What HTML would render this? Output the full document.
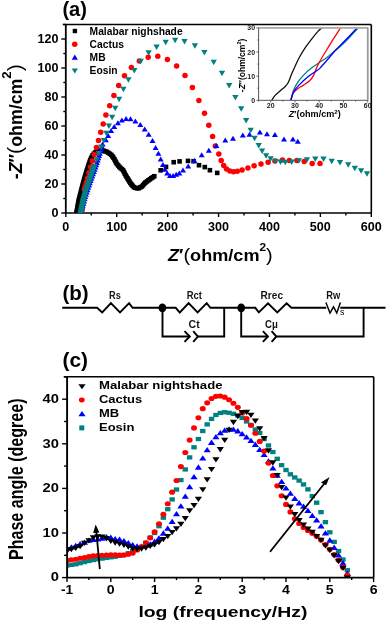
<!DOCTYPE html>
<html><head><meta charset="utf-8"><title>Figure</title>
<style>html,body{margin:0;padding:0;background:#fff;width:387px;height:622px;overflow:hidden}svg{display:block}</style>
</head><body>
<svg width="387" height="622" viewBox="0 0 387 622" font-family="'Liberation Sans', Arial, sans-serif">
<defs>
<clipPath id="clipA"><rect x="65.8" y="24.5" width="305.5" height="188.5"/></clipPath>
<clipPath id="clipI"><rect x="258.6" y="27.9" width="109.09999999999997" height="72.4"/></clipPath>
<clipPath id="clipC"><rect x="67.1" y="376.7" width="306.6" height="200.90000000000003"/></clipPath>
</defs>
<rect width="387" height="622" fill="#fff"/>
<line x1="62.8" y1="24.5" x2="371.3" y2="24.5" stroke="#000" stroke-width="1.4"/>
<line x1="65.8" y1="24.5" x2="65.8" y2="213.0" stroke="#000" stroke-width="1.8"/>
<line x1="371.3" y1="24.5" x2="371.3" y2="213.0" stroke="#000" stroke-width="1.6"/>
<line x1="65.8" y1="213.0" x2="371.3" y2="213.0" stroke="#000" stroke-width="1.6"/>
<line x1="61.3" y1="213.00" x2="65.8" y2="213.00" stroke="#000" stroke-width="1.4"/>
<text x="58.5" y="217.40" font-size="12.4" font-weight="bold" text-anchor="end" fill="#000" textLength="7.0" lengthAdjust="spacingAndGlyphs" >0</text>
<line x1="63.3" y1="198.50" x2="65.8" y2="198.50" stroke="#000" stroke-width="1.4"/>
<line x1="61.3" y1="184.00" x2="65.8" y2="184.00" stroke="#000" stroke-width="1.4"/>
<text x="58.5" y="188.40" font-size="12.4" font-weight="bold" text-anchor="end" fill="#000" textLength="14.0" lengthAdjust="spacingAndGlyphs" >20</text>
<line x1="63.3" y1="169.50" x2="65.8" y2="169.50" stroke="#000" stroke-width="1.4"/>
<line x1="61.3" y1="155.00" x2="65.8" y2="155.00" stroke="#000" stroke-width="1.4"/>
<text x="58.5" y="159.40" font-size="12.4" font-weight="bold" text-anchor="end" fill="#000" textLength="14.0" lengthAdjust="spacingAndGlyphs" >40</text>
<line x1="63.3" y1="140.50" x2="65.8" y2="140.50" stroke="#000" stroke-width="1.4"/>
<line x1="61.3" y1="126.00" x2="65.8" y2="126.00" stroke="#000" stroke-width="1.4"/>
<text x="58.5" y="130.40" font-size="12.4" font-weight="bold" text-anchor="end" fill="#000" textLength="14.0" lengthAdjust="spacingAndGlyphs" >60</text>
<line x1="63.3" y1="111.50" x2="65.8" y2="111.50" stroke="#000" stroke-width="1.4"/>
<line x1="61.3" y1="97.00" x2="65.8" y2="97.00" stroke="#000" stroke-width="1.4"/>
<text x="58.5" y="101.40" font-size="12.4" font-weight="bold" text-anchor="end" fill="#000" textLength="14.0" lengthAdjust="spacingAndGlyphs" >80</text>
<line x1="63.3" y1="82.50" x2="65.8" y2="82.50" stroke="#000" stroke-width="1.4"/>
<line x1="61.3" y1="68.00" x2="65.8" y2="68.00" stroke="#000" stroke-width="1.4"/>
<text x="58.5" y="72.40" font-size="12.4" font-weight="bold" text-anchor="end" fill="#000" textLength="21.0" lengthAdjust="spacingAndGlyphs" >100</text>
<line x1="63.3" y1="53.50" x2="65.8" y2="53.50" stroke="#000" stroke-width="1.4"/>
<line x1="61.3" y1="39.00" x2="65.8" y2="39.00" stroke="#000" stroke-width="1.4"/>
<text x="58.5" y="43.40" font-size="12.4" font-weight="bold" text-anchor="end" fill="#000" textLength="21.0" lengthAdjust="spacingAndGlyphs" >120</text>
<line x1="63.3" y1="24.50" x2="65.8" y2="24.50" stroke="#000" stroke-width="1.4"/>
<line x1="65.80" y1="213.0" x2="65.80" y2="217.0" stroke="#000" stroke-width="1.4"/>
<text x="65.80" y="230.8" font-size="12.4" font-weight="bold" text-anchor="middle" fill="#000" textLength="7.0" lengthAdjust="spacingAndGlyphs" >0</text>
<line x1="91.26" y1="213.0" x2="91.26" y2="215.5" stroke="#000" stroke-width="1.4"/>
<line x1="116.72" y1="213.0" x2="116.72" y2="217.0" stroke="#000" stroke-width="1.4"/>
<text x="116.72" y="230.8" font-size="12.4" font-weight="bold" text-anchor="middle" fill="#000" textLength="21.0" lengthAdjust="spacingAndGlyphs" >100</text>
<line x1="142.18" y1="213.0" x2="142.18" y2="215.5" stroke="#000" stroke-width="1.4"/>
<line x1="167.63" y1="213.0" x2="167.63" y2="217.0" stroke="#000" stroke-width="1.4"/>
<text x="167.63" y="230.8" font-size="12.4" font-weight="bold" text-anchor="middle" fill="#000" textLength="21.0" lengthAdjust="spacingAndGlyphs" >200</text>
<line x1="193.09" y1="213.0" x2="193.09" y2="215.5" stroke="#000" stroke-width="1.4"/>
<line x1="218.55" y1="213.0" x2="218.55" y2="217.0" stroke="#000" stroke-width="1.4"/>
<text x="218.55" y="230.8" font-size="12.4" font-weight="bold" text-anchor="middle" fill="#000" textLength="21.0" lengthAdjust="spacingAndGlyphs" >300</text>
<line x1="244.01" y1="213.0" x2="244.01" y2="215.5" stroke="#000" stroke-width="1.4"/>
<line x1="269.47" y1="213.0" x2="269.47" y2="217.0" stroke="#000" stroke-width="1.4"/>
<text x="269.47" y="230.8" font-size="12.4" font-weight="bold" text-anchor="middle" fill="#000" textLength="21.0" lengthAdjust="spacingAndGlyphs" >400</text>
<line x1="294.93" y1="213.0" x2="294.93" y2="215.5" stroke="#000" stroke-width="1.4"/>
<line x1="320.38" y1="213.0" x2="320.38" y2="217.0" stroke="#000" stroke-width="1.4"/>
<text x="320.38" y="230.8" font-size="12.4" font-weight="bold" text-anchor="middle" fill="#000" textLength="21.0" lengthAdjust="spacingAndGlyphs" >500</text>
<line x1="345.84" y1="213.0" x2="345.84" y2="215.5" stroke="#000" stroke-width="1.4"/>
<line x1="371.30" y1="213.0" x2="371.30" y2="217.0" stroke="#000" stroke-width="1.4"/>
<text x="371.30" y="230.8" font-size="12.4" font-weight="bold" text-anchor="middle" fill="#000" textLength="21.0" lengthAdjust="spacingAndGlyphs" >600</text>
<text x="62.4" y="15.6" font-size="20.5" font-weight="bold" textLength="24.6" lengthAdjust="spacingAndGlyphs">(a)</text>
<text x="168.0" y="261.2" font-size="16.8" font-weight="bold" textLength="104.8" lengthAdjust="spacingAndGlyphs"><tspan font-style="italic">Z</tspan>′<tspan font-size="18.5" font-weight="normal">(</tspan>ohm/cm<tspan font-size="11" dy="-10.5">2</tspan><tspan dy="10.5" font-size="18.5" font-weight="normal">)</tspan></text>
<text transform="translate(22,179.2) rotate(-90)" x="0" y="0" font-size="17.5" font-weight="bold" textLength="115" lengthAdjust="spacingAndGlyphs">-<tspan font-style="italic">Z</tspan>″<tspan font-size="21" font-weight="normal">(</tspan>ohm/cm<tspan font-size="13" dy="-11">2</tspan><tspan dy="11" font-size="21" font-weight="normal">)</tspan></text>
<rect x="72.70" y="28.80" width="4.40" height="4.40" fill="#000"/>
<ellipse cx="74.70" cy="44.20" rx="2.75" ry="2.75" fill="#ff0000"/>
<polygon points="71.70,59.80 77.90,59.80 74.80,54.60" fill="#0000ff"/>
<polygon points="71.70,68.40 77.90,68.40 74.80,73.60" fill="#008080"/>
<text x="89.6" y="34.6" font-size="10" font-weight="bold" text-anchor="start" fill="#000" textLength="93" lengthAdjust="spacingAndGlyphs" >Malabar nighshade</text>
<text x="89.6" y="47.7" font-size="10" font-weight="bold" text-anchor="start" fill="#000" textLength="34.3" lengthAdjust="spacingAndGlyphs" >Cactus</text>
<text x="89.6" y="60.9" font-size="10" font-weight="bold" text-anchor="start" fill="#000" textLength="16.0" lengthAdjust="spacingAndGlyphs" >MB</text>
<text x="89.6" y="74.1" font-size="10" font-weight="bold" text-anchor="start" fill="#000" textLength="28.0" lengthAdjust="spacingAndGlyphs" >Eosin</text>
<g clip-path="url(#clipA)">
<rect x="74.00" y="211.70" width="4.60" height="4.60" fill="#000"/>
<rect x="74.32" y="209.93" width="4.60" height="4.60" fill="#000"/>
<rect x="74.63" y="208.16" width="4.60" height="4.60" fill="#000"/>
<rect x="74.95" y="206.38" width="4.60" height="4.60" fill="#000"/>
<rect x="75.27" y="204.61" width="4.60" height="4.60" fill="#000"/>
<rect x="75.58" y="202.84" width="4.60" height="4.60" fill="#000"/>
<rect x="75.90" y="201.07" width="4.60" height="4.60" fill="#000"/>
<rect x="76.21" y="199.30" width="4.60" height="4.60" fill="#000"/>
<rect x="76.54" y="197.53" width="4.60" height="4.60" fill="#000"/>
<rect x="77.00" y="195.79" width="4.60" height="4.60" fill="#000"/>
<rect x="77.45" y="194.04" width="4.60" height="4.60" fill="#000"/>
<rect x="77.90" y="192.30" width="4.60" height="4.60" fill="#000"/>
<rect x="78.36" y="190.56" width="4.60" height="4.60" fill="#000"/>
<rect x="78.81" y="188.82" width="4.60" height="4.60" fill="#000"/>
<rect x="79.26" y="187.07" width="4.60" height="4.60" fill="#000"/>
<rect x="79.72" y="185.33" width="4.60" height="4.60" fill="#000"/>
<rect x="80.17" y="183.59" width="4.60" height="4.60" fill="#000"/>
<rect x="80.62" y="181.85" width="4.60" height="4.60" fill="#000"/>
<rect x="81.07" y="180.11" width="4.60" height="4.60" fill="#000"/>
<rect x="81.53" y="178.36" width="4.60" height="4.60" fill="#000"/>
<rect x="82.02" y="176.63" width="4.60" height="4.60" fill="#000"/>
<rect x="82.54" y="174.91" width="4.60" height="4.60" fill="#000"/>
<rect x="83.05" y="173.19" width="4.60" height="4.60" fill="#000"/>
<rect x="83.57" y="171.46" width="4.60" height="4.60" fill="#000"/>
<rect x="84.09" y="169.74" width="4.60" height="4.60" fill="#000"/>
<rect x="84.61" y="168.01" width="4.60" height="4.60" fill="#000"/>
<rect x="85.16" y="166.30" width="4.60" height="4.60" fill="#000"/>
<rect x="85.73" y="164.59" width="4.60" height="4.60" fill="#000"/>
<rect x="86.29" y="162.88" width="4.60" height="4.60" fill="#000"/>
<rect x="86.85" y="161.17" width="4.60" height="4.60" fill="#000"/>
<rect x="87.42" y="159.46" width="4.60" height="4.60" fill="#000"/>
<rect x="87.98" y="157.75" width="4.60" height="4.60" fill="#000"/>
<rect x="88.78" y="156.14" width="4.60" height="4.60" fill="#000"/>
<rect x="89.58" y="154.53" width="4.60" height="4.60" fill="#000"/>
<rect x="90.39" y="152.92" width="4.60" height="4.60" fill="#000"/>
<rect x="91.54" y="151.55" width="4.60" height="4.60" fill="#000"/>
<rect x="92.74" y="150.21" width="4.60" height="4.60" fill="#000"/>
<rect x="94.24" y="149.29" width="4.60" height="4.60" fill="#000"/>
<rect x="95.91" y="148.62" width="4.60" height="4.60" fill="#000"/>
<rect x="97.65" y="148.25" width="4.60" height="4.60" fill="#000"/>
<rect x="99.44" y="148.15" width="4.60" height="4.60" fill="#000"/>
<rect x="101.19" y="148.38" width="4.60" height="4.60" fill="#000"/>
<rect x="102.89" y="148.97" width="4.60" height="4.60" fill="#000"/>
<rect x="104.60" y="149.56" width="4.60" height="4.60" fill="#000"/>
<rect x="106.12" y="150.49" width="4.60" height="4.60" fill="#000"/>
<rect x="107.59" y="151.53" width="4.60" height="4.60" fill="#000"/>
<rect x="109.06" y="152.57" width="4.60" height="4.60" fill="#000"/>
<rect x="110.11" y="154.03" width="4.60" height="4.60" fill="#000"/>
<rect x="111.15" y="155.50" width="4.60" height="4.60" fill="#000"/>
<rect x="112.15" y="156.99" width="4.60" height="4.60" fill="#000"/>
<rect x="112.95" y="158.60" width="4.60" height="4.60" fill="#000"/>
<rect x="113.76" y="160.21" width="4.60" height="4.60" fill="#000"/>
<rect x="114.68" y="161.74" width="4.60" height="4.60" fill="#000"/>
<rect x="115.85" y="163.11" width="4.60" height="4.60" fill="#000"/>
<rect x="117.02" y="164.48" width="4.60" height="4.60" fill="#000"/>
<rect x="118.27" y="165.77" width="4.60" height="4.60" fill="#000"/>
<rect x="119.68" y="166.89" width="4.60" height="4.60" fill="#000"/>
<rect x="120.92" y="168.14" width="4.60" height="4.60" fill="#000"/>
<rect x="121.71" y="169.76" width="4.60" height="4.60" fill="#000"/>
<rect x="122.50" y="171.38" width="4.60" height="4.60" fill="#000"/>
<rect x="123.34" y="172.97" width="4.60" height="4.60" fill="#000"/>
<rect x="124.27" y="174.51" width="4.60" height="4.60" fill="#000"/>
<rect x="125.19" y="176.05" width="4.60" height="4.60" fill="#000"/>
<rect x="126.13" y="177.59" width="4.60" height="4.60" fill="#000"/>
<rect x="127.08" y="179.12" width="4.60" height="4.60" fill="#000"/>
<rect x="128.02" y="180.65" width="4.60" height="4.60" fill="#000"/>
<rect x="129.12" y="182.07" width="4.60" height="4.60" fill="#000"/>
<rect x="130.29" y="183.44" width="4.60" height="4.60" fill="#000"/>
<rect x="131.46" y="184.81" width="4.60" height="4.60" fill="#000"/>
<rect x="133.07" y="185.50" width="4.60" height="4.60" fill="#000"/>
<rect x="134.79" y="186.01" width="4.60" height="4.60" fill="#000"/>
<rect x="136.45" y="185.93" width="4.60" height="4.60" fill="#000"/>
<rect x="138.02" y="185.05" width="4.60" height="4.60" fill="#000"/>
<rect x="139.59" y="184.17" width="4.60" height="4.60" fill="#000"/>
<rect x="140.79" y="182.86" width="4.60" height="4.60" fill="#000"/>
<rect x="141.90" y="181.44" width="4.60" height="4.60" fill="#000"/>
<rect x="143.19" y="180.21" width="4.60" height="4.60" fill="#000"/>
<rect x="144.64" y="179.14" width="4.60" height="4.60" fill="#000"/>
<rect x="146.09" y="178.07" width="4.60" height="4.60" fill="#000"/>
<rect x="147.53" y="176.99" width="4.60" height="4.60" fill="#000"/>
<rect x="148.99" y="175.94" width="4.60" height="4.60" fill="#000"/>
<rect x="150.49" y="174.94" width="4.60" height="4.60" fill="#000"/>
<rect x="151.99" y="173.94" width="4.60" height="4.60" fill="#000"/>
<rect x="158.40" y="168.00" width="4.60" height="4.60" fill="#000"/>
<rect x="163.70" y="164.60" width="4.60" height="4.60" fill="#000"/>
<rect x="171.40" y="159.90" width="4.60" height="4.60" fill="#000"/>
<rect x="177.30" y="159.10" width="4.60" height="4.60" fill="#000"/>
<rect x="185.70" y="158.60" width="4.60" height="4.60" fill="#000"/>
<rect x="191.30" y="158.90" width="4.60" height="4.60" fill="#000"/>
<rect x="196.70" y="162.90" width="4.60" height="4.60" fill="#000"/>
<rect x="202.50" y="164.80" width="4.60" height="4.60" fill="#000"/>
<rect x="207.60" y="167.90" width="4.60" height="4.60" fill="#000"/>
<rect x="214.90" y="170.60" width="4.60" height="4.60" fill="#000"/>
<ellipse cx="81.50" cy="214.00" rx="2.75" ry="2.75" fill="#ff0000"/>
<ellipse cx="81.92" cy="210.53" rx="2.75" ry="2.75" fill="#ff0000"/>
<ellipse cx="82.34" cy="207.05" rx="2.75" ry="2.75" fill="#ff0000"/>
<ellipse cx="82.77" cy="203.58" rx="2.75" ry="2.75" fill="#ff0000"/>
<ellipse cx="83.19" cy="200.10" rx="2.75" ry="2.75" fill="#ff0000"/>
<ellipse cx="84.30" cy="189.30" rx="2.75" ry="2.75" fill="#ff0000"/>
<ellipse cx="85.10" cy="186.40" rx="2.75" ry="2.75" fill="#ff0000"/>
<ellipse cx="86.20" cy="182.60" rx="2.75" ry="2.75" fill="#ff0000"/>
<ellipse cx="87.60" cy="178.00" rx="2.75" ry="2.75" fill="#ff0000"/>
<ellipse cx="89.00" cy="172.80" rx="2.75" ry="2.75" fill="#ff0000"/>
<ellipse cx="90.70" cy="166.90" rx="2.75" ry="2.75" fill="#ff0000"/>
<ellipse cx="92.40" cy="160.90" rx="2.75" ry="2.75" fill="#ff0000"/>
<ellipse cx="94.30" cy="154.40" rx="2.75" ry="2.75" fill="#ff0000"/>
<ellipse cx="96.40" cy="147.50" rx="2.75" ry="2.75" fill="#ff0000"/>
<ellipse cx="98.50" cy="140.40" rx="2.75" ry="2.75" fill="#ff0000"/>
<ellipse cx="100.70" cy="132.20" rx="2.75" ry="2.75" fill="#ff0000"/>
<ellipse cx="103.20" cy="124.00" rx="2.75" ry="2.75" fill="#ff0000"/>
<ellipse cx="105.90" cy="115.10" rx="2.75" ry="2.75" fill="#ff0000"/>
<ellipse cx="109.70" cy="105.80" rx="2.75" ry="2.75" fill="#ff0000"/>
<ellipse cx="113.90" cy="95.50" rx="2.75" ry="2.75" fill="#ff0000"/>
<ellipse cx="118.70" cy="85.60" rx="2.75" ry="2.75" fill="#ff0000"/>
<ellipse cx="124.50" cy="75.80" rx="2.75" ry="2.75" fill="#ff0000"/>
<ellipse cx="131.40" cy="67.40" rx="2.75" ry="2.75" fill="#ff0000"/>
<ellipse cx="139.30" cy="61.00" rx="2.75" ry="2.75" fill="#ff0000"/>
<ellipse cx="148.20" cy="57.20" rx="2.75" ry="2.75" fill="#ff0000"/>
<ellipse cx="157.80" cy="56.30" rx="2.75" ry="2.75" fill="#ff0000"/>
<ellipse cx="167.40" cy="59.40" rx="2.75" ry="2.75" fill="#ff0000"/>
<ellipse cx="176.60" cy="65.90" rx="2.75" ry="2.75" fill="#ff0000"/>
<ellipse cx="185.00" cy="75.50" rx="2.75" ry="2.75" fill="#ff0000"/>
<ellipse cx="192.40" cy="87.50" rx="2.75" ry="2.75" fill="#ff0000"/>
<ellipse cx="198.90" cy="100.40" rx="2.75" ry="2.75" fill="#ff0000"/>
<ellipse cx="204.50" cy="113.30" rx="2.75" ry="2.75" fill="#ff0000"/>
<ellipse cx="208.80" cy="125.20" rx="2.75" ry="2.75" fill="#ff0000"/>
<ellipse cx="212.60" cy="136.40" rx="2.75" ry="2.75" fill="#ff0000"/>
<ellipse cx="215.30" cy="145.90" rx="2.75" ry="2.75" fill="#ff0000"/>
<ellipse cx="218.80" cy="153.90" rx="2.75" ry="2.75" fill="#ff0000"/>
<ellipse cx="221.20" cy="160.40" rx="2.75" ry="2.75" fill="#ff0000"/>
<ellipse cx="223.70" cy="165.50" rx="2.75" ry="2.75" fill="#ff0000"/>
<ellipse cx="226.50" cy="169.10" rx="2.75" ry="2.75" fill="#ff0000"/>
<ellipse cx="229.80" cy="171.00" rx="2.75" ry="2.75" fill="#ff0000"/>
<ellipse cx="233.50" cy="171.70" rx="2.75" ry="2.75" fill="#ff0000"/>
<ellipse cx="237.30" cy="171.30" rx="2.75" ry="2.75" fill="#ff0000"/>
<ellipse cx="242.10" cy="170.00" rx="2.75" ry="2.75" fill="#ff0000"/>
<ellipse cx="247.90" cy="168.10" rx="2.75" ry="2.75" fill="#ff0000"/>
<ellipse cx="254.10" cy="165.80" rx="2.75" ry="2.75" fill="#ff0000"/>
<ellipse cx="261.00" cy="164.10" rx="2.75" ry="2.75" fill="#ff0000"/>
<ellipse cx="268.10" cy="162.20" rx="2.75" ry="2.75" fill="#ff0000"/>
<ellipse cx="274.90" cy="161.00" rx="2.75" ry="2.75" fill="#ff0000"/>
<ellipse cx="282.40" cy="160.00" rx="2.75" ry="2.75" fill="#ff0000"/>
<ellipse cx="289.40" cy="160.40" rx="2.75" ry="2.75" fill="#ff0000"/>
<ellipse cx="296.90" cy="160.40" rx="2.75" ry="2.75" fill="#ff0000"/>
<ellipse cx="304.20" cy="161.60" rx="2.75" ry="2.75" fill="#ff0000"/>
<ellipse cx="312.20" cy="163.50" rx="2.75" ry="2.75" fill="#ff0000"/>
<ellipse cx="320.00" cy="163.50" rx="2.75" ry="2.75" fill="#ff0000"/>
<polygon points="77.20,217.50 83.20,217.50 80.20,212.50" fill="#0000ff"/>
<polygon points="77.84,215.19 83.84,215.19 80.84,210.19" fill="#0000ff"/>
<polygon points="78.47,212.87 84.47,212.87 81.47,207.87" fill="#0000ff"/>
<polygon points="79.11,210.56 85.11,210.56 82.11,205.56" fill="#0000ff"/>
<polygon points="79.75,208.24 85.75,208.24 82.75,203.24" fill="#0000ff"/>
<polygon points="80.38,205.93 86.38,205.93 83.38,200.93" fill="#0000ff"/>
<polygon points="81.02,203.62 87.02,203.62 84.02,198.62" fill="#0000ff"/>
<polygon points="81.65,201.30 87.65,201.30 84.65,196.30" fill="#0000ff"/>
<polygon points="82.29,198.99 88.29,198.99 85.29,193.99" fill="#0000ff"/>
<polygon points="82.98,196.69 88.98,196.69 85.98,191.69" fill="#0000ff"/>
<polygon points="83.75,194.42 89.75,194.42 86.75,189.42" fill="#0000ff"/>
<polygon points="84.52,192.14 90.52,192.14 87.52,187.14" fill="#0000ff"/>
<polygon points="85.29,189.87 91.29,189.87 88.29,184.87" fill="#0000ff"/>
<polygon points="86.07,187.60 92.07,187.60 89.07,182.60" fill="#0000ff"/>
<polygon points="86.84,185.33 92.84,185.33 89.84,180.33" fill="#0000ff"/>
<polygon points="87.61,183.05 93.61,183.05 90.61,178.05" fill="#0000ff"/>
<polygon points="88.41,180.79 94.41,180.79 91.41,175.79" fill="#0000ff"/>
<polygon points="89.22,178.53 95.22,178.53 92.22,173.53" fill="#0000ff"/>
<polygon points="90.02,176.27 96.02,176.27 93.02,171.27" fill="#0000ff"/>
<polygon points="90.83,174.01 96.83,174.01 93.83,169.01" fill="#0000ff"/>
<polygon points="91.64,171.75 97.64,171.75 94.64,166.75" fill="#0000ff"/>
<polygon points="92.45,169.49 98.45,169.49 95.45,164.49" fill="#0000ff"/>
<polygon points="93.20,167.21 99.20,167.21 96.20,162.21" fill="#0000ff"/>
<polygon points="93.90,164.92 99.90,164.92 96.90,159.92" fill="#0000ff"/>
<polygon points="94.61,162.62 100.61,162.62 97.61,157.62" fill="#0000ff"/>
<polygon points="95.32,160.33 101.32,160.33 98.32,155.33" fill="#0000ff"/>
<polygon points="96.03,158.04 102.03,158.04 99.03,153.04" fill="#0000ff"/>
<polygon points="96.74,155.75 102.74,155.75 99.74,150.75" fill="#0000ff"/>
<polygon points="97.45,153.45 103.45,153.45 100.45,148.45" fill="#0000ff"/>
<polygon points="98.16,151.16 104.16,151.16 101.16,146.16" fill="#0000ff"/>
<polygon points="98.88,148.87 104.88,148.87 101.88,143.87" fill="#0000ff"/>
<polygon points="99.59,146.58 105.59,146.58 102.59,141.58" fill="#0000ff"/>
<polygon points="102.90,142.20 108.90,142.20 105.90,137.20" fill="#0000ff"/>
<polygon points="105.20,138.00 111.20,138.00 108.20,133.00" fill="#0000ff"/>
<polygon points="108.10,132.90 114.10,132.90 111.10,127.90" fill="#0000ff"/>
<polygon points="111.20,128.90 117.20,128.90 114.20,123.90" fill="#0000ff"/>
<polygon points="114.90,125.20 120.90,125.20 117.90,120.20" fill="#0000ff"/>
<polygon points="118.90,122.40 124.90,122.40 121.90,117.40" fill="#0000ff"/>
<polygon points="123.10,121.00 129.10,121.00 126.10,116.00" fill="#0000ff"/>
<polygon points="127.50,121.30 133.50,121.30 130.50,116.30" fill="#0000ff"/>
<polygon points="132.40,123.50 138.40,123.50 135.40,118.50" fill="#0000ff"/>
<polygon points="137.30,126.90 143.30,126.90 140.30,121.90" fill="#0000ff"/>
<polygon points="141.70,131.50 147.70,131.50 144.70,126.50" fill="#0000ff"/>
<polygon points="145.70,136.80 151.70,136.80 148.70,131.80" fill="#0000ff"/>
<polygon points="149.50,143.00 155.50,143.00 152.50,138.00" fill="#0000ff"/>
<polygon points="152.60,150.00 158.60,150.00 155.60,145.00" fill="#0000ff"/>
<polygon points="155.40,155.70 161.40,155.70 158.40,150.70" fill="#0000ff"/>
<polygon points="157.70,161.60 163.70,161.60 160.70,156.60" fill="#0000ff"/>
<polygon points="159.90,167.00 165.90,167.00 162.90,162.00" fill="#0000ff"/>
<polygon points="161.90,171.70 167.90,171.70 164.90,166.70" fill="#0000ff"/>
<polygon points="164.20,175.60 170.20,175.60 167.20,170.60" fill="#0000ff"/>
<polygon points="167.00,177.90 173.00,177.90 170.00,172.90" fill="#0000ff"/>
<polygon points="170.10,177.90 176.10,177.90 173.10,172.90" fill="#0000ff"/>
<polygon points="173.20,176.80 179.20,176.80 176.20,171.80" fill="#0000ff"/>
<polygon points="176.30,175.60 182.30,175.60 179.30,170.60" fill="#0000ff"/>
<polygon points="180.00,172.50 186.00,172.50 183.00,167.50" fill="#0000ff"/>
<polygon points="185.20,168.50 191.20,168.50 188.20,163.50" fill="#0000ff"/>
<polygon points="191.40,163.00 197.40,163.00 194.40,158.00" fill="#0000ff"/>
<polygon points="198.70,157.20 204.70,157.20 201.70,152.20" fill="#0000ff"/>
<polygon points="205.80,152.80 211.80,152.80 208.80,147.80" fill="#0000ff"/>
<polygon points="213.40,147.90 219.40,147.90 216.40,142.90" fill="#0000ff"/>
<polygon points="222.30,142.50 228.30,142.50 225.30,137.50" fill="#0000ff"/>
<polygon points="230.00,140.80 236.00,140.80 233.00,135.80" fill="#0000ff"/>
<polygon points="239.80,137.60 245.80,137.60 242.80,132.60" fill="#0000ff"/>
<polygon points="246.50,136.70 252.50,136.70 249.50,131.70" fill="#0000ff"/>
<polygon points="256.90,134.50 262.90,134.50 259.90,129.50" fill="#0000ff"/>
<polygon points="264.00,136.30 270.00,136.30 267.00,131.30" fill="#0000ff"/>
<polygon points="271.90,137.10 277.90,137.10 274.90,132.10" fill="#0000ff"/>
<polygon points="281.00,141.50 287.00,141.50 284.00,136.50" fill="#0000ff"/>
<polygon points="289.90,141.50 295.90,141.50 292.90,136.50" fill="#0000ff"/>
<polygon points="294.80,143.70 300.80,143.70 297.80,138.70" fill="#0000ff"/>
<polygon points="77.25,212.65 83.55,212.65 80.40,218.15" fill="#008080"/>
<polygon points="77.45,211.67 83.75,211.67 80.60,217.17" fill="#008080"/>
<polygon points="77.64,210.69 83.94,210.69 80.79,216.19" fill="#008080"/>
<polygon points="77.84,209.71 84.14,209.71 80.99,215.21" fill="#008080"/>
<polygon points="78.03,208.73 84.33,208.73 81.18,214.23" fill="#008080"/>
<polygon points="78.23,207.75 84.53,207.75 81.38,213.25" fill="#008080"/>
<polygon points="78.43,206.77 84.73,206.77 81.58,212.27" fill="#008080"/>
<polygon points="78.62,205.79 84.92,205.79 81.77,211.29" fill="#008080"/>
<polygon points="78.82,204.81 85.12,204.81 81.97,210.31" fill="#008080"/>
<polygon points="79.02,203.82 85.32,203.82 82.17,209.32" fill="#008080"/>
<polygon points="79.21,202.84 85.51,202.84 82.36,208.34" fill="#008080"/>
<polygon points="79.44,201.87 85.74,201.87 82.59,207.37" fill="#008080"/>
<polygon points="79.68,200.90 85.98,200.90 82.83,206.40" fill="#008080"/>
<polygon points="79.92,199.93 86.22,199.93 83.07,205.43" fill="#008080"/>
<polygon points="80.16,198.96 86.46,198.96 83.31,204.46" fill="#008080"/>
<polygon points="80.40,197.99 86.70,197.99 83.55,203.49" fill="#008080"/>
<polygon points="80.64,197.02 86.94,197.02 83.79,202.52" fill="#008080"/>
<polygon points="80.88,196.05 87.18,196.05 84.03,201.55" fill="#008080"/>
<polygon points="81.11,195.07 87.41,195.07 84.26,200.57" fill="#008080"/>
<polygon points="81.35,194.10 87.65,194.10 84.50,199.60" fill="#008080"/>
<polygon points="81.59,193.13 87.89,193.13 84.74,198.63" fill="#008080"/>
<polygon points="81.83,192.16 88.13,192.16 84.98,197.66" fill="#008080"/>
<polygon points="82.07,191.19 88.37,191.19 85.22,196.69" fill="#008080"/>
<polygon points="82.31,190.22 88.61,190.22 85.46,195.72" fill="#008080"/>
<polygon points="82.59,189.26 88.89,189.26 85.74,194.76" fill="#008080"/>
<polygon points="82.92,188.32 89.22,188.32 86.07,193.82" fill="#008080"/>
<polygon points="83.25,187.37 89.55,187.37 86.40,192.87" fill="#008080"/>
<polygon points="83.58,186.43 89.88,186.43 86.73,191.93" fill="#008080"/>
<polygon points="83.91,185.48 90.21,185.48 87.06,190.98" fill="#008080"/>
<polygon points="84.24,184.54 90.54,184.54 87.39,190.04" fill="#008080"/>
<polygon points="84.57,183.60 90.87,183.60 87.72,189.10" fill="#008080"/>
<polygon points="84.90,182.65 91.20,182.65 88.05,188.15" fill="#008080"/>
<polygon points="85.23,181.71 91.53,181.71 88.38,187.21" fill="#008080"/>
<polygon points="85.56,180.76 91.86,180.76 88.71,186.26" fill="#008080"/>
<polygon points="85.89,179.82 92.19,179.82 89.04,185.32" fill="#008080"/>
<polygon points="86.22,178.88 92.52,178.88 89.37,184.38" fill="#008080"/>
<polygon points="86.55,177.93 92.85,177.93 89.70,183.43" fill="#008080"/>
<polygon points="86.87,176.99 93.17,176.99 90.02,182.49" fill="#008080"/>
<polygon points="87.19,176.04 93.49,176.04 90.34,181.54" fill="#008080"/>
<polygon points="87.51,175.09 93.81,175.09 90.66,180.59" fill="#008080"/>
<polygon points="87.83,174.14 94.13,174.14 90.98,179.64" fill="#008080"/>
<polygon points="88.16,173.20 94.46,173.20 91.31,178.70" fill="#008080"/>
<polygon points="88.48,172.25 94.78,172.25 91.63,177.75" fill="#008080"/>
<polygon points="88.80,171.30 95.10,171.30 91.95,176.80" fill="#008080"/>
<polygon points="89.12,170.36 95.42,170.36 92.27,175.86" fill="#008080"/>
<polygon points="89.44,169.41 95.74,169.41 92.59,174.91" fill="#008080"/>
<polygon points="89.76,168.46 96.06,168.46 92.91,173.96" fill="#008080"/>
<polygon points="90.08,167.51 96.38,167.51 93.23,173.01" fill="#008080"/>
<polygon points="90.40,166.57 96.70,166.57 93.55,172.07" fill="#008080"/>
<polygon points="90.72,165.62 97.02,165.62 93.87,171.12" fill="#008080"/>
<polygon points="91.04,164.67 97.34,164.67 94.19,170.17" fill="#008080"/>
<polygon points="91.36,163.72 97.66,163.72 94.51,169.22" fill="#008080"/>
<polygon points="93.55,157.25 99.85,157.25 96.70,162.75" fill="#008080"/>
<polygon points="95.65,151.05 101.95,151.05 98.80,156.55" fill="#008080"/>
<polygon points="98.05,144.55 104.35,144.55 101.20,150.05" fill="#008080"/>
<polygon points="100.65,137.95 106.95,137.95 103.80,143.45" fill="#008080"/>
<polygon points="103.25,130.75 109.55,130.75 106.40,136.25" fill="#008080"/>
<polygon points="105.75,123.45 112.05,123.45 108.90,128.95" fill="#008080"/>
<polygon points="108.95,114.75 115.25,114.75 112.10,120.25" fill="#008080"/>
<polygon points="112.05,105.75 118.35,105.75 115.20,111.25" fill="#008080"/>
<polygon points="115.95,96.85 122.25,96.85 119.10,102.35" fill="#008080"/>
<polygon points="120.25,86.85 126.55,86.85 123.40,92.35" fill="#008080"/>
<polygon points="125.25,77.15 131.55,77.15 128.40,82.65" fill="#008080"/>
<polygon points="131.15,67.95 137.45,67.95 134.30,73.45" fill="#008080"/>
<polygon points="137.55,58.65 143.85,58.65 140.70,64.15" fill="#008080"/>
<polygon points="145.45,50.25 151.75,50.25 148.60,55.75" fill="#008080"/>
<polygon points="153.45,44.45 159.75,44.45 156.60,49.95" fill="#008080"/>
<polygon points="162.55,39.75 168.85,39.75 165.70,45.25" fill="#008080"/>
<polygon points="171.95,37.65 178.25,37.65 175.10,43.15" fill="#008080"/>
<polygon points="181.35,39.05 187.65,39.05 184.50,44.55" fill="#008080"/>
<polygon points="191.75,43.15 198.05,43.15 194.90,48.65" fill="#008080"/>
<polygon points="201.25,49.95 207.55,49.95 204.40,55.45" fill="#008080"/>
<polygon points="210.55,59.65 216.85,59.65 213.70,65.15" fill="#008080"/>
<polygon points="218.85,70.65 225.15,70.65 222.00,76.15" fill="#008080"/>
<polygon points="226.05,83.05 232.35,83.05 229.20,88.55" fill="#008080"/>
<polygon points="232.25,95.05 238.55,95.05 235.40,100.55" fill="#008080"/>
<polygon points="238.05,106.35 244.35,106.35 241.20,111.85" fill="#008080"/>
<polygon points="242.95,117.95 249.25,117.95 246.10,123.45" fill="#008080"/>
<polygon points="247.55,127.65 253.85,127.65 250.70,133.15" fill="#008080"/>
<polygon points="251.45,135.85 257.75,135.85 254.60,141.35" fill="#008080"/>
<polygon points="255.55,142.95 261.85,142.95 258.70,148.45" fill="#008080"/>
<polygon points="258.95,148.45 265.25,148.45 262.10,153.95" fill="#008080"/>
<polygon points="262.95,153.25 269.25,153.25 266.10,158.75" fill="#008080"/>
<polygon points="267.45,156.25 273.75,156.25 270.60,161.75" fill="#008080"/>
<polygon points="272.25,158.65 278.55,158.65 275.40,164.15" fill="#008080"/>
<polygon points="277.35,159.55 283.65,159.55 280.50,165.05" fill="#008080"/>
<polygon points="282.15,159.65 288.45,159.65 285.30,165.15" fill="#008080"/>
<polygon points="288.55,159.45 294.85,159.45 291.70,164.95" fill="#008080"/>
<polygon points="295.75,158.35 302.05,158.35 298.90,163.85" fill="#008080"/>
<polygon points="303.85,157.15 310.15,157.15 307.00,162.65" fill="#008080"/>
<polygon points="312.15,156.45 318.45,156.45 315.30,161.95" fill="#008080"/>
<polygon points="320.35,156.45 326.65,156.45 323.50,161.95" fill="#008080"/>
<polygon points="328.55,158.75 334.85,158.75 331.70,164.25" fill="#008080"/>
<polygon points="336.85,159.95 343.15,159.95 340.00,165.45" fill="#008080"/>
<polygon points="345.05,162.35 351.35,162.35 348.20,167.85" fill="#008080"/>
<polygon points="351.65,165.85 357.95,165.85 354.80,171.35" fill="#008080"/>
<polygon points="357.95,168.25 364.25,168.25 361.10,173.75" fill="#008080"/>
<polygon points="363.85,171.25 370.15,171.25 367.00,176.75" fill="#008080"/>
</g>
<rect x="258.6" y="27.9" width="109.09999999999997" height="72.4" fill="#fff"/>
<g clip-path="url(#clipI)">
<path d="M271.80,100.30 C272.32,99.52 273.48,97.20 274.90,95.60 C276.32,94.00 278.62,92.18 280.30,90.70 C281.98,89.22 283.70,88.02 285.00,86.70 C286.30,85.38 287.07,84.73 288.10,82.80 C289.13,80.87 290.17,77.55 291.20,75.10 C292.23,72.65 293.00,70.95 294.30,68.10 C295.60,65.25 297.12,61.48 299.00,58.00 C300.88,54.52 303.43,50.43 305.60,47.20 C307.77,43.97 309.87,41.32 312.00,38.60 C314.13,35.88 316.73,32.73 318.40,30.90 C320.07,29.07 321.40,28.15 322.00,27.60" fill="none" stroke="#111" stroke-width="1.3" stroke-linejoin="round" stroke-linecap="round"/>
<path d="M290.90,100.30 C291.33,98.68 292.42,93.52 293.50,90.60 C294.58,87.68 295.72,85.38 297.40,82.80 C299.08,80.22 301.27,77.55 303.60,75.10 C305.93,72.65 308.75,70.20 311.40,68.10 C314.05,66.00 316.82,64.35 319.50,62.50 C322.18,60.65 325.08,58.83 327.50,57.00 C329.92,55.17 332.00,53.17 334.00,51.50 C336.00,49.83 337.42,48.83 339.50,47.00 C341.58,45.17 344.33,42.67 346.50,40.50 C348.67,38.33 350.48,36.15 352.50,34.00 C354.52,31.85 357.58,28.67 358.60,27.60" fill="none" stroke="#008080" stroke-width="1.3" stroke-linejoin="round" stroke-linecap="round"/>
<path d="M290.90,100.30 C291.22,99.20 291.72,95.58 292.80,93.70 C293.88,91.82 295.60,90.43 297.40,89.00 C299.20,87.57 301.53,86.52 303.60,85.10 C305.67,83.68 308.12,82.17 309.80,80.50 C311.48,78.83 312.53,77.30 313.70,75.10 C314.87,72.90 315.70,69.73 316.80,67.30 C317.90,64.87 318.62,63.47 320.30,60.50 C321.98,57.53 324.77,53.02 326.90,49.50 C329.03,45.98 330.82,43.02 333.10,39.40 C335.38,35.78 339.35,29.73 340.60,27.80" fill="none" stroke="#ff0000" stroke-width="1.3" stroke-linejoin="round" stroke-linecap="round"/>
<path d="M290.90,100.30 C291.33,98.93 292.15,94.63 293.50,92.10 C294.85,89.57 296.53,87.68 299.00,85.10 C301.47,82.52 305.47,78.92 308.30,76.60 C311.13,74.28 314.05,72.62 316.00,71.20 C317.95,69.78 318.03,70.08 320.00,68.10 C321.97,66.12 325.22,62.27 327.80,59.30 C330.38,56.33 332.42,53.63 335.50,50.30 C338.58,46.97 342.62,43.12 346.30,39.30 C349.98,35.48 355.72,29.38 357.60,27.40" fill="none" stroke="#0000ff" stroke-width="1.3" stroke-linejoin="round" stroke-linecap="round"/>
</g>
<rect x="258.6" y="27.9" width="109.09999999999997" height="72.4" fill="none" stroke="#555" stroke-width="1"/>
<line x1="258.6" y1="28.2" x2="367.7" y2="28.2" stroke="#bbb" stroke-width="1.2"/>
<line x1="367.7" y1="27.9" x2="367.7" y2="100.3" stroke="#999" stroke-width="1.6"/>
<line x1="256.40000000000003" y1="100.30" x2="258.6" y2="100.30" stroke="#444" stroke-width="0.8"/>
<line x1="257.3" y1="88.23" x2="258.6" y2="88.23" stroke="#444" stroke-width="0.8"/>
<line x1="256.40000000000003" y1="76.17" x2="258.6" y2="76.17" stroke="#444" stroke-width="0.8"/>
<line x1="257.3" y1="64.10" x2="258.6" y2="64.10" stroke="#444" stroke-width="0.8"/>
<line x1="256.40000000000003" y1="52.03" x2="258.6" y2="52.03" stroke="#444" stroke-width="0.8"/>
<line x1="257.3" y1="39.97" x2="258.6" y2="39.97" stroke="#444" stroke-width="0.8"/>
<line x1="256.40000000000003" y1="27.90" x2="258.6" y2="27.90" stroke="#444" stroke-width="0.8"/>
<line x1="258.60" y1="100.3" x2="258.60" y2="101.6" stroke="#444" stroke-width="0.8"/>
<line x1="270.72" y1="100.3" x2="270.72" y2="102.5" stroke="#444" stroke-width="0.8"/>
<line x1="282.84" y1="100.3" x2="282.84" y2="101.6" stroke="#444" stroke-width="0.8"/>
<line x1="294.97" y1="100.3" x2="294.97" y2="102.5" stroke="#444" stroke-width="0.8"/>
<line x1="307.09" y1="100.3" x2="307.09" y2="101.6" stroke="#444" stroke-width="0.8"/>
<line x1="319.21" y1="100.3" x2="319.21" y2="102.5" stroke="#444" stroke-width="0.8"/>
<line x1="331.33" y1="100.3" x2="331.33" y2="101.6" stroke="#444" stroke-width="0.8"/>
<line x1="343.46" y1="100.3" x2="343.46" y2="102.5" stroke="#444" stroke-width="0.8"/>
<line x1="355.58" y1="100.3" x2="355.58" y2="101.6" stroke="#444" stroke-width="0.8"/>
<line x1="367.70" y1="100.3" x2="367.70" y2="102.5" stroke="#444" stroke-width="0.8"/>
<text x="255.10000000000002" y="102.80" font-size="7" font-weight="bold" text-anchor="end" fill="#222" >0</text>
<text x="255.10000000000002" y="78.67" font-size="7" font-weight="bold" text-anchor="end" fill="#222" >10</text>
<text x="255.10000000000002" y="54.53" font-size="7" font-weight="bold" text-anchor="end" fill="#222" >20</text>
<text x="255.10000000000002" y="30.40" font-size="7" font-weight="bold" text-anchor="end" fill="#222" >30</text>
<text x="270.72" y="108.3" font-size="7" font-weight="bold" text-anchor="middle" fill="#222" >20</text>
<text x="294.97" y="108.3" font-size="7" font-weight="bold" text-anchor="middle" fill="#222" >30</text>
<text x="319.21" y="108.3" font-size="7" font-weight="bold" text-anchor="middle" fill="#222" >40</text>
<text x="343.46" y="108.3" font-size="7" font-weight="bold" text-anchor="middle" fill="#222" >50</text>
<text x="367.70" y="108.3" font-size="7" font-weight="bold" text-anchor="middle" fill="#222" >60</text>
<text x="288.7" y="117" font-size="9" font-weight="bold" textLength="52" lengthAdjust="spacingAndGlyphs"><tspan font-style="italic">Z</tspan>′(ohm/cm<tspan font-size="6" dy="-3.5">2</tspan><tspan dy="3.5">)</tspan></text>
<text transform="translate(244.5,92.2) rotate(-90)" x="0" y="0" font-size="8.5" font-weight="bold" textLength="53.5" lengthAdjust="spacingAndGlyphs">-<tspan font-style="italic">Z</tspan>″(ohm/cm<tspan font-size="5.5" dy="-3.5">2</tspan><tspan dy="3.5">)</tspan></text>
<text x="62.4" y="300.2" font-size="20.3" font-weight="bold" textLength="26.2" lengthAdjust="spacingAndGlyphs">(b)</text>
<polyline points="62.2,307.8 97.1,307.8 102.2,312.5 110.9,303.2 120.0,312.5 129.1,303.2 132.6,307.8 175.7,307.8 179.8,312.5 188.6,303.2 197.6,312.5 206.7,303.2 210.4,307.8 255.3,307.8 258.8,312.4 268.0,303.4 277.3,312.4 286.6,303.4 291.4,307.8 326.2,307.8" stroke="#000" stroke-width="1.9" fill="none" stroke-linejoin="miter"/>
<polyline points="325.9,302.4 330.0,313.0 333.5,306.8 336.8,313.0 340.4,302.4" stroke="#000" stroke-width="1.45" fill="none" stroke-linejoin="miter"/>
<line x1="340.3" y1="307.8" x2="385.5" y2="307.8" stroke="#000" stroke-width="1.9"/>
<text x="340.1" y="314.7" font-size="8.6" fill="#000" textLength="4.4" lengthAdjust="spacingAndGlyphs">s</text>
<ellipse cx="162.4" cy="307.8" rx="3.9" ry="4.4" fill="#000"/>
<ellipse cx="241.2" cy="307.8" rx="3.9" ry="4.4" fill="#000"/>
<polyline points="162.5,307.8 162.5,336.5 189.8,336.5" stroke="#000" stroke-width="1.9" fill="none" stroke-linejoin="miter"/>
<polyline points="197.9,336.5 224.2,336.5 224.2,307.8" stroke="#000" stroke-width="1.9" fill="none" stroke-linejoin="miter"/>
<polyline points="184.5,331.2 189.8,336.5 184.5,341.9" stroke="#000" stroke-width="1.9" fill="none" stroke-linejoin="miter"/>
<polyline points="193.2,331.2 197.9,336.5 193.2,341.9" stroke="#000" stroke-width="1.9" fill="none" stroke-linejoin="miter"/>
<polyline points="241.2,307.8 241.2,336.5 268.0,336.5" stroke="#000" stroke-width="1.9" fill="none" stroke-linejoin="miter"/>
<polyline points="276.4,336.5 363.6,336.5 363.6,307.8" stroke="#000" stroke-width="1.9" fill="none" stroke-linejoin="miter"/>
<polyline points="262.9,331.2 268.0,336.5 262.9,341.9" stroke="#000" stroke-width="1.9" fill="none" stroke-linejoin="miter"/>
<polyline points="271.6,331.2 276.4,336.5 271.6,341.9" stroke="#000" stroke-width="1.9" fill="none" stroke-linejoin="miter"/>
<text x="109" y="299" font-size="10.5" font-weight="bold" text-anchor="start" fill="#141414" textLength="11.8" lengthAdjust="spacingAndGlyphs" >Rs</text>
<text x="186.8" y="299.3" font-size="10.5" font-weight="bold" text-anchor="start" fill="#141414" textLength="15.2" lengthAdjust="spacingAndGlyphs" >Rct</text>
<text x="188.6" y="327.6" font-size="10.5" font-weight="bold" text-anchor="start" fill="#141414" >Ct</text>
<text x="260.6" y="298.7" font-size="10.5" font-weight="bold" text-anchor="start" fill="#141414" textLength="22.4" lengthAdjust="spacingAndGlyphs" >Rrec</text>
<text x="265.0" y="327.9" font-size="10.3" font-weight="bold" text-anchor="start" fill="#141414" textLength="12.8" lengthAdjust="spacingAndGlyphs" >Cμ</text>
<text x="326.2" y="299" font-size="10.5" font-weight="bold" text-anchor="start" fill="#141414" textLength="14" lengthAdjust="spacingAndGlyphs" >Rw</text>
<g clip-path="url(#clipC)">
<rect x="64.30" y="563.35" width="5.4" height="4.3" fill="#008080"/>
<rect x="68.68" y="562.74" width="5.4" height="4.3" fill="#008080"/>
<rect x="73.06" y="562.14" width="5.4" height="4.3" fill="#008080"/>
<rect x="77.44" y="561.02" width="5.4" height="4.3" fill="#008080"/>
<rect x="81.82" y="559.92" width="5.4" height="4.3" fill="#008080"/>
<rect x="86.20" y="558.83" width="5.4" height="4.3" fill="#008080"/>
<rect x="90.58" y="557.90" width="5.4" height="4.3" fill="#008080"/>
<rect x="94.96" y="557.13" width="5.4" height="4.3" fill="#008080"/>
<rect x="99.34" y="556.43" width="5.4" height="4.3" fill="#008080"/>
<rect x="103.72" y="555.74" width="5.4" height="4.3" fill="#008080"/>
<rect x="108.10" y="555.17" width="5.4" height="4.3" fill="#008080"/>
<rect x="112.48" y="554.61" width="5.4" height="4.3" fill="#008080"/>
<rect x="116.86" y="553.69" width="5.4" height="4.3" fill="#008080"/>
<rect x="121.24" y="552.76" width="5.4" height="4.3" fill="#008080"/>
<rect x="125.62" y="551.07" width="5.4" height="4.3" fill="#008080"/>
<rect x="130.00" y="549.00" width="5.4" height="4.3" fill="#008080"/>
<rect x="134.38" y="547.05" width="5.4" height="4.3" fill="#008080"/>
<rect x="138.76" y="544.82" width="5.4" height="4.3" fill="#008080"/>
<rect x="143.14" y="540.64" width="5.4" height="4.3" fill="#008080"/>
<rect x="147.52" y="535.42" width="5.4" height="4.3" fill="#008080"/>
<rect x="151.90" y="530.86" width="5.4" height="4.3" fill="#008080"/>
<rect x="156.28" y="524.04" width="5.4" height="4.3" fill="#008080"/>
<rect x="160.66" y="515.54" width="5.4" height="4.3" fill="#008080"/>
<rect x="165.04" y="507.06" width="5.4" height="4.3" fill="#008080"/>
<rect x="169.42" y="497.30" width="5.4" height="4.3" fill="#008080"/>
<rect x="173.80" y="487.38" width="5.4" height="4.3" fill="#008080"/>
<rect x="178.18" y="477.94" width="5.4" height="4.3" fill="#008080"/>
<rect x="182.56" y="467.28" width="5.4" height="4.3" fill="#008080"/>
<rect x="186.94" y="455.26" width="5.4" height="4.3" fill="#008080"/>
<rect x="191.32" y="445.12" width="5.4" height="4.3" fill="#008080"/>
<rect x="195.70" y="436.87" width="5.4" height="4.3" fill="#008080"/>
<rect x="200.08" y="428.89" width="5.4" height="4.3" fill="#008080"/>
<rect x="204.46" y="422.24" width="5.4" height="4.3" fill="#008080"/>
<rect x="208.84" y="416.73" width="5.4" height="4.3" fill="#008080"/>
<rect x="213.22" y="412.84" width="5.4" height="4.3" fill="#008080"/>
<rect x="217.60" y="410.78" width="5.4" height="4.3" fill="#008080"/>
<rect x="221.98" y="410.06" width="5.4" height="4.3" fill="#008080"/>
<rect x="226.36" y="410.64" width="5.4" height="4.3" fill="#008080"/>
<rect x="230.74" y="411.67" width="5.4" height="4.3" fill="#008080"/>
<rect x="235.12" y="413.37" width="5.4" height="4.3" fill="#008080"/>
<rect x="239.50" y="415.79" width="5.4" height="4.3" fill="#008080"/>
<rect x="243.88" y="419.32" width="5.4" height="4.3" fill="#008080"/>
<rect x="248.26" y="422.83" width="5.4" height="4.3" fill="#008080"/>
<rect x="252.64" y="427.34" width="5.4" height="4.3" fill="#008080"/>
<rect x="257.02" y="430.83" width="5.4" height="4.3" fill="#008080"/>
<rect x="261.40" y="436.92" width="5.4" height="4.3" fill="#008080"/>
<rect x="265.78" y="443.33" width="5.4" height="4.3" fill="#008080"/>
<rect x="270.16" y="449.89" width="5.4" height="4.3" fill="#008080"/>
<rect x="274.54" y="456.66" width="5.4" height="4.3" fill="#008080"/>
<rect x="278.92" y="463.03" width="5.4" height="4.3" fill="#008080"/>
<rect x="283.30" y="467.84" width="5.4" height="4.3" fill="#008080"/>
<rect x="287.68" y="472.13" width="5.4" height="4.3" fill="#008080"/>
<rect x="292.06" y="475.32" width="5.4" height="4.3" fill="#008080"/>
<rect x="296.44" y="478.44" width="5.4" height="4.3" fill="#008080"/>
<rect x="300.82" y="482.30" width="5.4" height="4.3" fill="#008080"/>
<rect x="305.20" y="487.22" width="5.4" height="4.3" fill="#008080"/>
<rect x="309.58" y="493.97" width="5.4" height="4.3" fill="#008080"/>
<rect x="313.96" y="500.54" width="5.4" height="4.3" fill="#008080"/>
<rect x="318.34" y="509.96" width="5.4" height="4.3" fill="#008080"/>
<rect x="322.72" y="520.01" width="5.4" height="4.3" fill="#008080"/>
<rect x="327.10" y="530.15" width="5.4" height="4.3" fill="#008080"/>
<rect x="331.48" y="539.75" width="5.4" height="4.3" fill="#008080"/>
<rect x="335.86" y="548.85" width="5.4" height="4.3" fill="#008080"/>
<rect x="340.24" y="557.38" width="5.4" height="4.3" fill="#008080"/>
<rect x="344.62" y="568.09" width="5.4" height="4.3" fill="#008080"/>
<polygon points="63.40,550.85 70.60,550.85 67.00,545.55" fill="#0000ff"/>
<polygon points="67.78,549.61 74.98,549.61 71.38,544.31" fill="#0000ff"/>
<polygon points="72.16,547.99 79.36,547.99 75.76,542.69" fill="#0000ff"/>
<polygon points="76.54,546.21 83.74,546.21 80.14,540.91" fill="#0000ff"/>
<polygon points="80.92,544.68 88.12,544.68 84.52,539.38" fill="#0000ff"/>
<polygon points="85.30,542.76 92.50,542.76 88.90,537.46" fill="#0000ff"/>
<polygon points="89.68,541.95 96.88,541.95 93.28,536.65" fill="#0000ff"/>
<polygon points="94.06,541.51 101.26,541.51 97.66,536.21" fill="#0000ff"/>
<polygon points="98.44,540.66 105.64,540.66 102.04,535.36" fill="#0000ff"/>
<polygon points="102.82,539.34 110.02,539.34 106.42,534.04" fill="#0000ff"/>
<polygon points="107.20,539.90 114.40,539.90 110.80,534.60" fill="#0000ff"/>
<polygon points="111.58,541.25 118.78,541.25 115.18,535.95" fill="#0000ff"/>
<polygon points="115.96,541.80 123.16,541.80 119.56,536.50" fill="#0000ff"/>
<polygon points="120.34,543.19 127.54,543.19 123.94,537.89" fill="#0000ff"/>
<polygon points="124.72,545.18 131.92,545.18 128.32,539.88" fill="#0000ff"/>
<polygon points="129.10,547.30 136.30,547.30 132.70,542.00" fill="#0000ff"/>
<polygon points="133.48,548.54 140.68,548.54 137.08,543.24" fill="#0000ff"/>
<polygon points="137.86,548.75 145.06,548.75 141.46,543.45" fill="#0000ff"/>
<polygon points="142.24,547.84 149.44,547.84 145.84,542.54" fill="#0000ff"/>
<polygon points="146.62,546.47 153.82,546.47 150.22,541.17" fill="#0000ff"/>
<polygon points="151.00,543.88 158.20,543.88 154.60,538.58" fill="#0000ff"/>
<polygon points="155.38,540.54 162.58,540.54 158.98,535.24" fill="#0000ff"/>
<polygon points="159.76,535.65 166.96,535.65 163.36,530.35" fill="#0000ff"/>
<polygon points="164.14,530.79 171.34,530.79 167.74,525.49" fill="#0000ff"/>
<polygon points="168.52,524.01 175.72,524.01 172.12,518.71" fill="#0000ff"/>
<polygon points="172.90,516.18 180.10,516.18 176.50,510.88" fill="#0000ff"/>
<polygon points="177.28,508.60 184.48,508.60 180.88,503.30" fill="#0000ff"/>
<polygon points="181.66,498.87 188.86,498.87 185.26,493.57" fill="#0000ff"/>
<polygon points="186.04,489.20 193.24,489.20 189.64,483.90" fill="#0000ff"/>
<polygon points="190.42,479.19 197.62,479.19 194.02,473.89" fill="#0000ff"/>
<polygon points="194.80,469.64 202.00,469.64 198.40,464.34" fill="#0000ff"/>
<polygon points="199.18,460.59 206.38,460.59 202.78,455.29" fill="#0000ff"/>
<polygon points="203.56,452.18 210.76,452.18 207.16,446.88" fill="#0000ff"/>
<polygon points="207.94,444.88 215.14,444.88 211.54,439.58" fill="#0000ff"/>
<polygon points="212.32,439.34 219.52,439.34 215.92,434.04" fill="#0000ff"/>
<polygon points="216.70,435.24 223.90,435.24 220.30,429.94" fill="#0000ff"/>
<polygon points="221.08,432.82 228.28,432.82 224.68,427.52" fill="#0000ff"/>
<polygon points="225.46,431.57 232.66,431.57 229.06,426.27" fill="#0000ff"/>
<polygon points="229.84,431.86 237.04,431.86 233.44,426.56" fill="#0000ff"/>
<polygon points="234.22,433.42 241.42,433.42 237.82,428.12" fill="#0000ff"/>
<polygon points="238.60,436.32 245.80,436.32 242.20,431.02" fill="#0000ff"/>
<polygon points="242.98,439.52 250.18,439.52 246.58,434.22" fill="#0000ff"/>
<polygon points="247.36,443.10 254.56,443.10 250.96,437.80" fill="#0000ff"/>
<polygon points="251.74,446.92 258.94,446.92 255.34,441.62" fill="#0000ff"/>
<polygon points="256.12,451.93 263.32,451.93 259.72,446.63" fill="#0000ff"/>
<polygon points="260.50,457.10 267.70,457.10 264.10,451.80" fill="#0000ff"/>
<polygon points="264.88,463.52 272.08,463.52 268.48,458.22" fill="#0000ff"/>
<polygon points="269.26,470.59 276.46,470.59 272.86,465.29" fill="#0000ff"/>
<polygon points="273.64,477.71 280.84,477.71 277.24,472.41" fill="#0000ff"/>
<polygon points="278.02,484.03 285.22,484.03 281.62,478.73" fill="#0000ff"/>
<polygon points="282.40,490.60 289.60,490.60 286.00,485.30" fill="#0000ff"/>
<polygon points="286.78,495.81 293.98,495.81 290.38,490.51" fill="#0000ff"/>
<polygon points="291.16,501.00 298.36,501.00 294.76,495.70" fill="#0000ff"/>
<polygon points="295.54,505.39 302.74,505.39 299.14,500.09" fill="#0000ff"/>
<polygon points="299.92,508.83 307.12,508.83 303.52,503.53" fill="#0000ff"/>
<polygon points="304.30,512.96 311.50,512.96 307.90,507.66" fill="#0000ff"/>
<polygon points="308.68,517.93 315.88,517.93 312.28,512.63" fill="#0000ff"/>
<polygon points="313.06,522.59 320.26,522.59 316.66,517.29" fill="#0000ff"/>
<polygon points="317.44,528.49 324.64,528.49 321.04,523.19" fill="#0000ff"/>
<polygon points="321.82,535.59 329.02,535.59 325.42,530.29" fill="#0000ff"/>
<polygon points="326.20,542.67 333.40,542.67 329.80,537.37" fill="#0000ff"/>
<polygon points="330.58,549.92 337.78,549.92 334.18,544.62" fill="#0000ff"/>
<polygon points="334.96,557.51 342.16,557.51 338.56,552.21" fill="#0000ff"/>
<polygon points="339.34,565.40 346.54,565.40 342.94,560.10" fill="#0000ff"/>
<polygon points="343.72,575.81 350.92,575.81 347.32,570.51" fill="#0000ff"/>
<ellipse cx="67.00" cy="560.40" rx="3.00" ry="2.55" fill="#ff0000"/>
<ellipse cx="71.38" cy="559.79" rx="3.00" ry="2.55" fill="#ff0000"/>
<ellipse cx="75.76" cy="559.19" rx="3.00" ry="2.55" fill="#ff0000"/>
<ellipse cx="80.14" cy="558.27" rx="3.00" ry="2.55" fill="#ff0000"/>
<ellipse cx="84.52" cy="557.43" rx="3.00" ry="2.55" fill="#ff0000"/>
<ellipse cx="88.90" cy="556.58" rx="3.00" ry="2.55" fill="#ff0000"/>
<ellipse cx="93.28" cy="555.88" rx="3.00" ry="2.55" fill="#ff0000"/>
<ellipse cx="97.66" cy="555.49" rx="3.00" ry="2.55" fill="#ff0000"/>
<ellipse cx="102.04" cy="555.20" rx="3.00" ry="2.55" fill="#ff0000"/>
<ellipse cx="106.42" cy="554.93" rx="3.00" ry="2.55" fill="#ff0000"/>
<ellipse cx="110.80" cy="554.90" rx="3.00" ry="2.55" fill="#ff0000"/>
<ellipse cx="115.18" cy="554.90" rx="3.00" ry="2.55" fill="#ff0000"/>
<ellipse cx="119.56" cy="555.00" rx="3.00" ry="2.55" fill="#ff0000"/>
<ellipse cx="123.94" cy="555.10" rx="3.00" ry="2.55" fill="#ff0000"/>
<ellipse cx="128.32" cy="554.31" rx="3.00" ry="2.55" fill="#ff0000"/>
<ellipse cx="132.70" cy="553.09" rx="3.00" ry="2.55" fill="#ff0000"/>
<ellipse cx="137.08" cy="549.96" rx="3.00" ry="2.55" fill="#ff0000"/>
<ellipse cx="141.46" cy="546.84" rx="3.00" ry="2.55" fill="#ff0000"/>
<ellipse cx="145.84" cy="542.74" rx="3.00" ry="2.55" fill="#ff0000"/>
<ellipse cx="150.22" cy="537.83" rx="3.00" ry="2.55" fill="#ff0000"/>
<ellipse cx="154.60" cy="531.74" rx="3.00" ry="2.55" fill="#ff0000"/>
<ellipse cx="158.98" cy="523.73" rx="3.00" ry="2.55" fill="#ff0000"/>
<ellipse cx="163.36" cy="514.33" rx="3.00" ry="2.55" fill="#ff0000"/>
<ellipse cx="167.74" cy="503.69" rx="3.00" ry="2.55" fill="#ff0000"/>
<ellipse cx="172.12" cy="492.15" rx="3.00" ry="2.55" fill="#ff0000"/>
<ellipse cx="176.50" cy="480.56" rx="3.00" ry="2.55" fill="#ff0000"/>
<ellipse cx="180.88" cy="466.58" rx="3.00" ry="2.55" fill="#ff0000"/>
<ellipse cx="185.26" cy="452.53" rx="3.00" ry="2.55" fill="#ff0000"/>
<ellipse cx="189.64" cy="440.09" rx="3.00" ry="2.55" fill="#ff0000"/>
<ellipse cx="194.02" cy="427.92" rx="3.00" ry="2.55" fill="#ff0000"/>
<ellipse cx="198.40" cy="417.79" rx="3.00" ry="2.55" fill="#ff0000"/>
<ellipse cx="202.78" cy="408.63" rx="3.00" ry="2.55" fill="#ff0000"/>
<ellipse cx="207.16" cy="402.83" rx="3.00" ry="2.55" fill="#ff0000"/>
<ellipse cx="211.54" cy="398.43" rx="3.00" ry="2.55" fill="#ff0000"/>
<ellipse cx="215.92" cy="396.36" rx="3.00" ry="2.55" fill="#ff0000"/>
<ellipse cx="220.30" cy="395.93" rx="3.00" ry="2.55" fill="#ff0000"/>
<ellipse cx="224.68" cy="397.17" rx="3.00" ry="2.55" fill="#ff0000"/>
<ellipse cx="229.06" cy="399.68" rx="3.00" ry="2.55" fill="#ff0000"/>
<ellipse cx="233.44" cy="403.25" rx="3.00" ry="2.55" fill="#ff0000"/>
<ellipse cx="237.82" cy="407.34" rx="3.00" ry="2.55" fill="#ff0000"/>
<ellipse cx="242.20" cy="412.90" rx="3.00" ry="2.55" fill="#ff0000"/>
<ellipse cx="246.58" cy="418.62" rx="3.00" ry="2.55" fill="#ff0000"/>
<ellipse cx="250.96" cy="425.31" rx="3.00" ry="2.55" fill="#ff0000"/>
<ellipse cx="255.34" cy="433.25" rx="3.00" ry="2.55" fill="#ff0000"/>
<ellipse cx="259.72" cy="441.38" rx="3.00" ry="2.55" fill="#ff0000"/>
<ellipse cx="264.10" cy="450.94" rx="3.00" ry="2.55" fill="#ff0000"/>
<ellipse cx="268.48" cy="463.08" rx="3.00" ry="2.55" fill="#ff0000"/>
<ellipse cx="272.86" cy="475.55" rx="3.00" ry="2.55" fill="#ff0000"/>
<ellipse cx="277.24" cy="485.84" rx="3.00" ry="2.55" fill="#ff0000"/>
<ellipse cx="281.62" cy="495.72" rx="3.00" ry="2.55" fill="#ff0000"/>
<ellipse cx="286.00" cy="504.40" rx="3.00" ry="2.55" fill="#ff0000"/>
<ellipse cx="290.38" cy="511.90" rx="3.00" ry="2.55" fill="#ff0000"/>
<ellipse cx="294.76" cy="518.78" rx="3.00" ry="2.55" fill="#ff0000"/>
<ellipse cx="299.14" cy="523.43" rx="3.00" ry="2.55" fill="#ff0000"/>
<ellipse cx="303.52" cy="527.45" rx="3.00" ry="2.55" fill="#ff0000"/>
<ellipse cx="307.90" cy="530.46" rx="3.00" ry="2.55" fill="#ff0000"/>
<ellipse cx="312.28" cy="533.33" rx="3.00" ry="2.55" fill="#ff0000"/>
<ellipse cx="316.66" cy="536.27" rx="3.00" ry="2.55" fill="#ff0000"/>
<ellipse cx="321.04" cy="540.00" rx="3.00" ry="2.55" fill="#ff0000"/>
<ellipse cx="325.42" cy="544.60" rx="3.00" ry="2.55" fill="#ff0000"/>
<ellipse cx="329.80" cy="549.28" rx="3.00" ry="2.55" fill="#ff0000"/>
<ellipse cx="334.18" cy="554.61" rx="3.00" ry="2.55" fill="#ff0000"/>
<ellipse cx="338.56" cy="560.30" rx="3.00" ry="2.55" fill="#ff0000"/>
<ellipse cx="342.94" cy="567.13" rx="3.00" ry="2.55" fill="#ff0000"/>
<ellipse cx="347.32" cy="575.17" rx="3.00" ry="2.55" fill="#ff0000"/>
<polygon points="63.40,548.85 70.60,548.85 67.00,554.15" fill="#000"/>
<polygon points="67.78,547.03 74.98,547.03 71.38,552.33" fill="#000"/>
<polygon points="72.16,545.79 79.36,545.79 75.76,551.09" fill="#000"/>
<polygon points="76.54,544.01 83.74,544.01 80.14,549.31" fill="#000"/>
<polygon points="80.92,540.74 88.12,540.74 84.52,546.04" fill="#000"/>
<polygon points="85.30,538.32 92.50,538.32 88.90,543.62" fill="#000"/>
<polygon points="89.68,535.21 96.88,535.21 93.28,540.51" fill="#000"/>
<polygon points="94.06,534.29 101.26,534.29 97.66,539.59" fill="#000"/>
<polygon points="98.44,534.59 105.64,534.59 102.04,539.89" fill="#000"/>
<polygon points="102.82,536.09 110.02,536.09 106.42,541.39" fill="#000"/>
<polygon points="107.20,538.79 114.40,538.79 110.80,544.09" fill="#000"/>
<polygon points="111.58,540.36 118.78,540.36 115.18,545.66" fill="#000"/>
<polygon points="115.96,541.47 123.16,541.47 119.56,546.77" fill="#000"/>
<polygon points="120.34,542.71 127.54,542.71 123.94,548.01" fill="#000"/>
<polygon points="124.72,544.55 131.92,544.55 128.32,549.85" fill="#000"/>
<polygon points="129.10,546.24 136.30,546.24 132.70,551.54" fill="#000"/>
<polygon points="133.48,546.93 140.68,546.93 137.08,552.23" fill="#000"/>
<polygon points="137.86,546.35 145.06,546.35 141.46,551.65" fill="#000"/>
<polygon points="142.24,545.40 149.44,545.40 145.84,550.70" fill="#000"/>
<polygon points="146.62,543.81 153.82,543.81 150.22,549.11" fill="#000"/>
<polygon points="151.00,542.30 158.20,542.30 154.60,547.60" fill="#000"/>
<polygon points="155.38,539.93 162.58,539.93 158.98,545.23" fill="#000"/>
<polygon points="159.76,536.90 166.96,536.90 163.36,542.20" fill="#000"/>
<polygon points="164.14,533.91 171.34,533.91 167.74,539.21" fill="#000"/>
<polygon points="168.52,530.03 175.72,530.03 172.12,535.33" fill="#000"/>
<polygon points="172.90,526.15 180.10,526.15 176.50,531.45" fill="#000"/>
<polygon points="177.28,521.77 184.48,521.77 180.88,527.07" fill="#000"/>
<polygon points="181.66,516.07 188.86,516.07 185.26,521.37" fill="#000"/>
<polygon points="186.04,508.32 193.24,508.32 189.64,513.62" fill="#000"/>
<polygon points="190.42,503.00 197.62,503.00 194.02,508.30" fill="#000"/>
<polygon points="194.80,496.73 202.00,496.73 198.40,502.03" fill="#000"/>
<polygon points="199.18,487.29 206.38,487.29 202.78,492.59" fill="#000"/>
<polygon points="203.56,477.27 210.76,477.27 207.16,482.57" fill="#000"/>
<polygon points="207.94,466.92 215.14,466.92 211.54,472.22" fill="#000"/>
<polygon points="212.32,457.24 219.52,457.24 215.92,462.54" fill="#000"/>
<polygon points="216.70,447.12 223.90,447.12 220.30,452.42" fill="#000"/>
<polygon points="221.08,437.69 228.28,437.69 224.68,442.99" fill="#000"/>
<polygon points="225.46,427.64 232.66,427.64 229.06,432.94" fill="#000"/>
<polygon points="229.84,419.86 237.04,419.86 233.44,425.16" fill="#000"/>
<polygon points="234.22,413.83 241.42,413.83 237.82,419.13" fill="#000"/>
<polygon points="238.60,410.12 245.80,410.12 242.20,415.42" fill="#000"/>
<polygon points="242.98,409.86 250.18,409.86 246.58,415.15" fill="#000"/>
<polygon points="247.36,412.78 254.56,412.78 250.96,418.08" fill="#000"/>
<polygon points="251.74,418.44 258.94,418.44 255.34,423.74" fill="#000"/>
<polygon points="256.12,426.25 263.32,426.25 259.72,431.55" fill="#000"/>
<polygon points="260.50,436.07 267.70,436.07 264.10,441.37" fill="#000"/>
<polygon points="264.88,448.33 272.08,448.33 268.48,453.63" fill="#000"/>
<polygon points="269.26,460.34 276.46,460.34 272.86,465.64" fill="#000"/>
<polygon points="273.64,472.88 280.84,472.88 277.24,478.18" fill="#000"/>
<polygon points="278.02,484.95 285.22,484.95 281.62,490.25" fill="#000"/>
<polygon points="282.40,495.47 289.60,495.47 286.00,500.77" fill="#000"/>
<polygon points="286.78,504.41 293.98,504.41 290.38,509.71" fill="#000"/>
<polygon points="291.16,512.06 298.36,512.06 294.76,517.36" fill="#000"/>
<polygon points="295.54,518.04 302.74,518.04 299.14,523.34" fill="#000"/>
<polygon points="299.92,522.47 307.12,522.47 303.52,527.77" fill="#000"/>
<polygon points="304.30,526.47 311.50,526.47 307.90,531.77" fill="#000"/>
<polygon points="308.68,529.81 315.88,529.81 312.28,535.11" fill="#000"/>
<polygon points="313.06,533.92 320.26,533.92 316.66,539.22" fill="#000"/>
<polygon points="317.44,537.74 324.64,537.74 321.04,543.04" fill="#000"/>
<polygon points="321.82,543.19 329.02,543.19 325.42,548.49" fill="#000"/>
<polygon points="326.20,547.84 333.40,547.84 329.80,553.14" fill="#000"/>
<polygon points="330.58,553.16 337.78,553.16 334.18,558.46" fill="#000"/>
<polygon points="334.96,558.85 342.16,558.85 338.56,564.15" fill="#000"/>
<polygon points="339.34,565.68 346.54,565.68 342.94,570.98" fill="#000"/>
<polygon points="343.72,575.53 350.92,575.53 347.32,580.83" fill="#000"/>
</g>
<line x1="99.8" y1="569.2" x2="96.3" y2="531" stroke="#000" stroke-width="1.8"/>
<polygon points="95.6,524.4 93.2,533 99.4,532.6" fill="#000"/>
<line x1="270.5" y1="551.2" x2="325" y2="482.8" stroke="#000" stroke-width="1.8" stroke-linecap="round"/>
<polygon points="329.6,476.9 321.0,482.6 326.1,485.2" fill="#000"/>
<line x1="63.7" y1="376.7" x2="373.7" y2="376.7" stroke="#000" stroke-width="1.5"/>
<line x1="67.1" y1="376.7" x2="67.1" y2="577.6" stroke="#000" stroke-width="1.9"/>
<line x1="373.7" y1="376.7" x2="373.7" y2="577.6" stroke="#000" stroke-width="1.6"/>
<line x1="67.1" y1="577.6" x2="373.7" y2="577.6" stroke="#000" stroke-width="1.6"/>
<line x1="62.099999999999994" y1="577.60" x2="67.1" y2="577.60" stroke="#000" stroke-width="1.4"/>
<text x="59.0" y="581.40" font-size="12.9" font-weight="bold" text-anchor="end" fill="#000" textLength="8.2" lengthAdjust="spacingAndGlyphs" >0</text>
<line x1="64.1" y1="555.30" x2="67.1" y2="555.30" stroke="#000" stroke-width="1.4"/>
<line x1="62.099999999999994" y1="533.00" x2="67.1" y2="533.00" stroke="#000" stroke-width="1.4"/>
<text x="59.0" y="536.80" font-size="12.9" font-weight="bold" text-anchor="end" fill="#000" textLength="16.4" lengthAdjust="spacingAndGlyphs" >10</text>
<line x1="64.1" y1="510.70" x2="67.1" y2="510.70" stroke="#000" stroke-width="1.4"/>
<line x1="62.099999999999994" y1="488.40" x2="67.1" y2="488.40" stroke="#000" stroke-width="1.4"/>
<text x="59.0" y="492.20" font-size="12.9" font-weight="bold" text-anchor="end" fill="#000" textLength="16.4" lengthAdjust="spacingAndGlyphs" >20</text>
<line x1="64.1" y1="466.10" x2="67.1" y2="466.10" stroke="#000" stroke-width="1.4"/>
<line x1="62.099999999999994" y1="443.80" x2="67.1" y2="443.80" stroke="#000" stroke-width="1.4"/>
<text x="59.0" y="447.60" font-size="12.9" font-weight="bold" text-anchor="end" fill="#000" textLength="16.4" lengthAdjust="spacingAndGlyphs" >30</text>
<line x1="64.1" y1="421.50" x2="67.1" y2="421.50" stroke="#000" stroke-width="1.4"/>
<line x1="62.099999999999994" y1="399.20" x2="67.1" y2="399.20" stroke="#000" stroke-width="1.4"/>
<text x="59.0" y="403.00" font-size="12.9" font-weight="bold" text-anchor="end" fill="#000" textLength="16.4" lengthAdjust="spacingAndGlyphs" >40</text>
<line x1="64.1" y1="376.90" x2="67.1" y2="376.90" stroke="#000" stroke-width="1.4"/>
<line x1="67.00" y1="577.6" x2="67.00" y2="582.1" stroke="#000" stroke-width="1.4"/>
<text x="67.00" y="594.4" font-size="12.4" font-weight="bold" text-anchor="middle" fill="#000" textLength="12.2" lengthAdjust="spacingAndGlyphs" >-1</text>
<line x1="88.90" y1="577.6" x2="88.90" y2="580.1" stroke="#000" stroke-width="1.4"/>
<line x1="110.80" y1="577.6" x2="110.80" y2="582.1" stroke="#000" stroke-width="1.4"/>
<text x="110.80" y="594.4" font-size="12.4" font-weight="bold" text-anchor="middle" fill="#000" textLength="7.9" lengthAdjust="spacingAndGlyphs" >0</text>
<line x1="132.70" y1="577.6" x2="132.70" y2="580.1" stroke="#000" stroke-width="1.4"/>
<line x1="154.60" y1="577.6" x2="154.60" y2="582.1" stroke="#000" stroke-width="1.4"/>
<text x="154.60" y="594.4" font-size="12.4" font-weight="bold" text-anchor="middle" fill="#000" textLength="7.9" lengthAdjust="spacingAndGlyphs" >1</text>
<line x1="176.50" y1="577.6" x2="176.50" y2="580.1" stroke="#000" stroke-width="1.4"/>
<line x1="198.40" y1="577.6" x2="198.40" y2="582.1" stroke="#000" stroke-width="1.4"/>
<text x="198.40" y="594.4" font-size="12.4" font-weight="bold" text-anchor="middle" fill="#000" textLength="7.9" lengthAdjust="spacingAndGlyphs" >2</text>
<line x1="220.30" y1="577.6" x2="220.30" y2="580.1" stroke="#000" stroke-width="1.4"/>
<line x1="242.20" y1="577.6" x2="242.20" y2="582.1" stroke="#000" stroke-width="1.4"/>
<text x="242.20" y="594.4" font-size="12.4" font-weight="bold" text-anchor="middle" fill="#000" textLength="7.9" lengthAdjust="spacingAndGlyphs" >3</text>
<line x1="264.10" y1="577.6" x2="264.10" y2="580.1" stroke="#000" stroke-width="1.4"/>
<line x1="286.00" y1="577.6" x2="286.00" y2="582.1" stroke="#000" stroke-width="1.4"/>
<text x="286.00" y="594.4" font-size="12.4" font-weight="bold" text-anchor="middle" fill="#000" textLength="7.9" lengthAdjust="spacingAndGlyphs" >4</text>
<line x1="307.90" y1="577.6" x2="307.90" y2="580.1" stroke="#000" stroke-width="1.4"/>
<line x1="329.80" y1="577.6" x2="329.80" y2="582.1" stroke="#000" stroke-width="1.4"/>
<text x="329.80" y="594.4" font-size="12.4" font-weight="bold" text-anchor="middle" fill="#000" textLength="7.9" lengthAdjust="spacingAndGlyphs" >5</text>
<line x1="351.70" y1="577.6" x2="351.70" y2="580.1" stroke="#000" stroke-width="1.4"/>
<line x1="373.60" y1="577.6" x2="373.60" y2="582.1" stroke="#000" stroke-width="1.4"/>
<text x="373.60" y="594.4" font-size="12.4" font-weight="bold" text-anchor="middle" fill="#000" textLength="7.9" lengthAdjust="spacingAndGlyphs" >6</text>
<text x="62.5" y="367.2" font-size="20.5" font-weight="bold" textLength="25.5" lengthAdjust="spacingAndGlyphs">(c)</text>
<text x="138.4" y="617" font-size="15.5" font-weight="bold" textLength="169" lengthAdjust="spacingAndGlyphs">log (frequency/Hz)</text>
<text transform="translate(23.2,560.0) rotate(-90)" x="0" y="0" font-size="19.5" font-weight="bold" textLength="161.5" lengthAdjust="spacingAndGlyphs">Phase angle (degree)</text>
<polygon points="78.40,384.25 85.60,384.25 82.00,389.35" fill="#000"/>
<ellipse cx="81.80" cy="400.00" rx="2.90" ry="2.40" fill="#ff0000"/>
<polygon points="78.40,416.15 85.60,416.15 82.00,411.05" fill="#0000ff"/>
<rect x="79.30" y="425.40" width="5.00" height="5.00" fill="#008080"/>
<text x="99.0" y="389.2" font-size="10.9" font-weight="bold" text-anchor="start" fill="#000" textLength="123.5" lengthAdjust="spacingAndGlyphs" >Malabar nightshade</text>
<text x="99.0" y="402.9" font-size="10.9" font-weight="bold" text-anchor="start" fill="#000" textLength="43.24531400000001" lengthAdjust="spacingAndGlyphs" >Cactus</text>
<text x="99.0" y="416.9" font-size="10.9" font-weight="bold" text-anchor="start" fill="#000" textLength="20.169905" lengthAdjust="spacingAndGlyphs" >MB</text>
<text x="99.0" y="430.8" font-size="10.9" font-weight="bold" text-anchor="start" fill="#000" textLength="35.320032999999995" lengthAdjust="spacingAndGlyphs" >Eosin</text>
</svg>
</body></html>
